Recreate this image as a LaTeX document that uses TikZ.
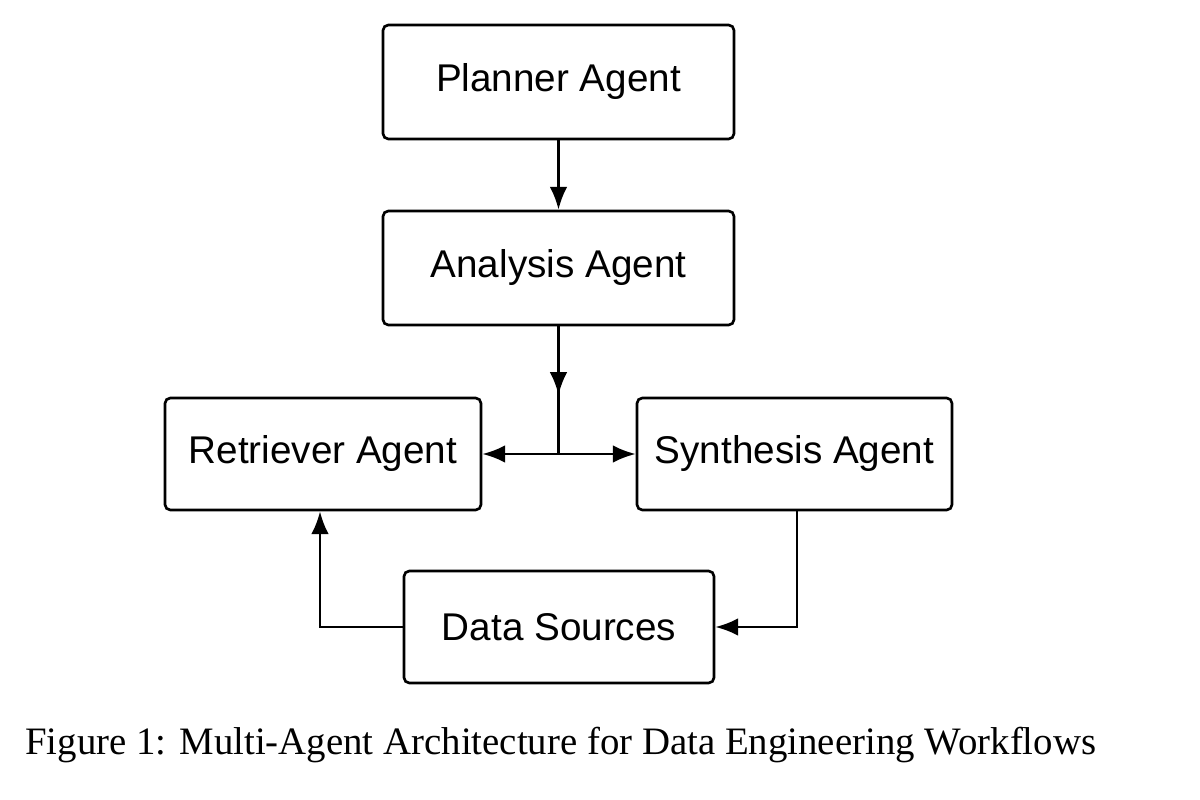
\documentclass[tikz,border=0pt]{standalone}
\usepackage{fontspec}
\setmainfont{Liberation Serif}
\setsansfont{Liberation Sans}
\usetikzlibrary{arrows.meta}
\begin{document}
\begin{tikzpicture}[x=0.02cm,y=-0.02cm,
  box/.style={draw,line width=1.5pt,rounded corners=3pt,inner sep=0pt,font=\sffamily\fontsize{22}{24}\selectfont},
  conn/.style={line width=1.5pt},
  arr/.style={conn,-{Latex[length=13pt,width=10pt]}}]
\useasboundingbox (0,0) rectangle (1200,800);
\node[box,minimum width=7.02cm,minimum height=2.28cm] (planner) at (558.5,82) {Planner Agent};
\node[box,minimum width=7.02cm,minimum height=2.28cm] (analysis) at (558.5,268) {Analysis Agent};
\node[box,minimum width=6.32cm,minimum height=2.24cm] (retriever) at (323,454) {Retriever Agent};
\node[box,minimum width=6.3cm,minimum height=2.24cm] (synthesis) at (794.5,454) {Synthesis Agent};
\node[box,minimum width=6.2cm,minimum height=2.24cm] (data) at (559,627) {Data Sources};
\node[font=\fontsize{22.1}{26}\selectfont,anchor=west,inner sep=0pt] (cap) at (25,745) {Figure 1: Multi-Agent Architecture for Data Engineering Workflows};
\coordinate (m) at (558.5,395);
\coordinate (j) at (558.5,454);
\coordinate (c1) at (797,627);
\coordinate (c2) at (320,627);
\draw[arr] (planner) -- (analysis);
\draw[conn] (analysis.south) -- (j);
\draw[arr] (analysis.south) -- (m);
\draw[arr] (j) -- (retriever.east);
\draw[arr] (j) -- (synthesis.west);
\draw[arr] (synthesis.south -| c1) -- (c1) -- (data.east);
\draw[arr] (data.west) -- (c2) -- (retriever.south -| c2);
\end{tikzpicture}
\end{document}
